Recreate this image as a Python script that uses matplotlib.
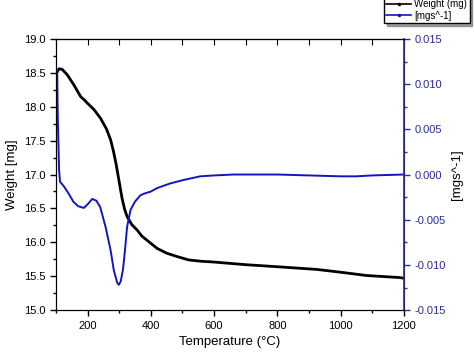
import numpy as np
import matplotlib
matplotlib.use("Agg")
import matplotlib.pyplot as plt
from matplotlib.lines import Line2D
from matplotlib.ticker import MultipleLocator, FormatStrFormatter

plt.rcParams['font.family'] = ['Liberation Sans', 'DejaVu Sans']
plt.rcParams['axes.unicode_minus'] = False

# weight curve (left axis)
temp_w = [102, 110, 120, 136, 157, 178, 190, 200, 220, 241, 260, 273, 282, 290, 299,
          309, 317, 325, 340, 357, 372, 388, 420, 450, 483, 520, 560, 597, 700, 799,
          925, 998, 1083, 1187, 1200]
weight = [18.50, 18.56, 18.55, 18.47, 18.32, 18.15, 18.10, 18.05, 17.96, 17.83, 17.67,
          17.51, 17.34, 17.16, 16.92, 16.65, 16.49, 16.38, 16.26, 16.18, 16.09, 16.03,
          15.91, 15.84, 15.79, 15.74, 15.72, 15.71, 15.67, 15.64, 15.60, 15.56, 15.51,
          15.48, 15.47]

# derivative curve (right axis)
temp_d = [104, 106, 110, 113, 125, 140, 155, 170, 188, 200, 215, 228, 240, 257, 273,
          283, 294, 299, 305, 312, 318, 325, 336, 350, 367, 380, 399, 420, 460, 504,
          556, 600, 662, 800, 900, 1000, 1050, 1100, 1200]
deriv = [0.0116, 0.006, 0.0005, -0.0008, -0.0013, -0.0021, -0.0030, -0.0035, -0.0037,
         -0.0033, -0.0027, -0.0029, -0.0036, -0.0058, -0.0084, -0.0106, -0.0120,
         -0.0122, -0.0118, -0.0105, -0.0085, -0.0058, -0.0039, -0.0030, -0.0023,
         -0.0021, -0.0019, -0.0015, -0.0010, -0.0006, -0.0002, -0.0001, 0.0, 0.0,
         -0.0001, -0.0002, -0.0002, -0.0001, 0.0]

blue = '#1414c0'
navy = '#2a2a9c'

fig = plt.figure(figsize=(4.74, 3.54), dpi=100)
ax = fig.add_axes([0.118, 0.124, 0.734, 0.766])
ax.plot(temp_w, weight, color='black', lw=2)
ax.set_xlim(100, 1200)
ax.set_ylim(15, 19)
ax.xaxis.set_major_locator(MultipleLocator(200))
ax.xaxis.set_minor_locator(MultipleLocator(100))
ax.yaxis.set_major_locator(MultipleLocator(0.5))
ax.yaxis.set_minor_locator(MultipleLocator(0.25))
ax.yaxis.set_major_formatter(FormatStrFormatter('%.1f'))
ax.tick_params(which='major', length=4, width=1, labelsize=8)
ax.tick_params(which='minor', length=2, width=1)
ax.set_xlabel('Temperature (°C)', fontsize=9.5)
ax.set_ylabel('Weight [mg]', fontsize=9.5)

top = ax.secondary_xaxis('top')
top.set_xticks(np.arange(100, 1300, 100))
top.tick_params(direction='in', length=4, labeltop=False)

ax2 = ax.twinx()
ax2.plot(temp_d, deriv, color=blue, lw=1.4)
ax2.set_ylim(-0.015, 0.015)
ax2.yaxis.set_major_locator(MultipleLocator(0.005))
ax2.yaxis.set_minor_locator(MultipleLocator(0.0025))
ax2.yaxis.set_major_formatter(FormatStrFormatter('%.3f'))
ax2.tick_params(which='major', length=4, width=1, labelsize=8, colors=navy)
ax2.tick_params(which='minor', length=2, width=1, colors=navy)
ax2.spines['right'].set_color(navy)
ax2.spines['right'].set_linewidth(1.2)
ax2.set_ylabel('[mgs^-1]', fontsize=9.5)

handles = [Line2D([], [], color='black', lw=1.2, marker='.', markersize=3),
           Line2D([], [], color=blue, lw=1.2, marker='.', markersize=3)]
fig.legend(handles, ['Weight (mg)', '[mgs^-1]'], loc='upper right',
           bbox_to_anchor=(0.995, 1.015), fontsize=7, frameon=True, shadow=True,
           fancybox=False, edgecolor='black', handlelength=2.6, borderpad=0.25,
           labelspacing=0.15, handletextpad=0.3, borderaxespad=0.2)

fig.savefig('out.png', dpi=100)
